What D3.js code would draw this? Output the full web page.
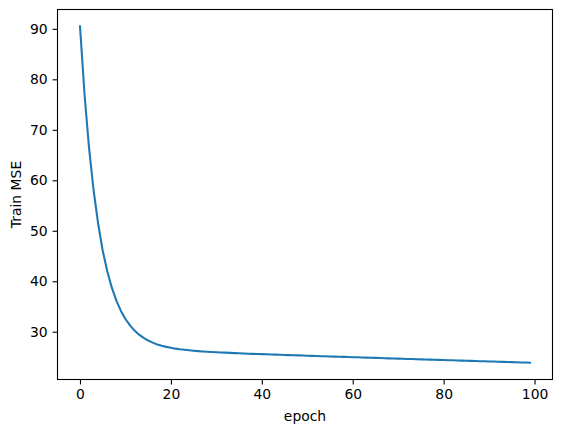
<!DOCTYPE html>
<html>
<head>
<meta charset="utf-8">
<script src="https://cdn.jsdelivr.net/npm/d3@7"></script>
<style>
body { margin: 0; background: #fff; }
text { font-family: "DejaVu Sans", sans-serif; fill: #000; }
</style>
</head>
<body>
<div id="chart"></div>
<script>
// train MSE per epoch
var mse = [
	90.50, 77.00, 66.30, 57.93, 51.35, 46.06, 41.99, 38.72, 36.15, 34.13,
	32.52, 31.25, 30.23, 29.42, 28.78, 28.25, 27.84, 27.49, 27.22, 27.00,
	26.82, 26.65, 26.53, 26.43, 26.33, 26.24, 26.16, 26.10, 26.05, 25.99,
	25.94, 25.89, 25.86, 25.81, 25.77, 25.73, 25.70, 25.65, 25.62, 25.59,
	25.56, 25.53, 25.49, 25.46, 25.44, 25.40, 25.37, 25.34, 25.31, 25.28,
	25.25, 25.22, 25.19, 25.16, 25.13, 25.10, 25.07, 25.05, 25.02, 24.99,
	24.95, 24.93, 24.90, 24.87, 24.84, 24.82, 24.79, 24.76, 24.73, 24.70,
	24.67, 24.64, 24.61, 24.59, 24.56, 24.53, 24.50, 24.47, 24.45, 24.42,
	24.39, 24.36, 24.34, 24.31, 24.28, 24.25, 24.23, 24.20, 24.17, 24.14,
	24.12, 24.09, 24.06, 24.03, 24.01, 23.98, 23.95, 23.92, 23.90, 23.87
]
var epochs = d3.range(mse.length)
var xTicks = [0, 20, 40, 60, 80, 100]
var yTicks = [30, 40, 50, 60, 70, 80, 90]

var w = 562, h = 432
// plot area edges (window.top is reserved, so prefixed names)
var pLeft = 57.5, pRight = 552.5, pTop = 9.5, pBottom = 379.5

var svg = d3.select("#chart")
	.append("svg")
	.attr("width", w)
	.attr("height", h)

// matplotlib style 5% margins
var xExt = d3.extent(epochs), yExt = d3.extent(mse)
var xPad = (xExt[1] - xExt[0]) * 0.05, yPad = (yExt[1] - yExt[0]) * 0.05

var x = d3.scaleLinear()
	.domain([xExt[0] - xPad, xExt[1] + xPad])
	.range([pLeft, pRight])

var y = d3.scaleLinear()
	.domain([yExt[0] - yPad, yExt[1] + yPad])
	.range([pBottom, pTop])

var line = d3.line()
	.x(function(d, i) {return x(epochs[i])})
	.y(function(d) {return y(d)})

svg.append("path")
	.datum(mse)
	.attr("d", line)
	.attr("fill", "none")
	.attr("stroke", "#1f77b4")
	.attr("stroke-width", 2.08)
	.attr("stroke-linejoin", "round")
	.attr("stroke-linecap", "square")

// axes
svg.append("g")
	.attr("transform", "translate(0," + pBottom + ")")
	.call(d3.axisBottom(x).tickValues(xTicks).tickSize(4.9).tickPadding(4.9))

svg.append("g")
	.attr("transform", "translate(" + pLeft + ",0)")
	.call(d3.axisLeft(y).tickValues(yTicks).tickSize(4.9).tickPadding(4.9))

svg.selectAll(".domain").remove()
svg.selectAll(".tick line").attr("stroke", "#000").attr("stroke-width", 1.1)
svg.selectAll(".tick text").style("font-size", "13.9px").attr("fill", "#000")

// frame
svg.append("rect")
	.attr("x", pLeft)
	.attr("y", pTop)
	.attr("width", pRight - pLeft)
	.attr("height", pBottom - pTop)
	.attr("fill", "none")
	.attr("stroke", "#000")
	.attr("stroke-width", 1.1)

svg.append("text")
	.attr("x", (pLeft + pRight) / 2)
	.attr("y", 421)
	.attr("text-anchor", "middle")
	.style("font-size", "13.9px")
	.text("epoch")

svg.append("text")
	.attr("transform", "translate(21," + (pTop + pBottom) / 2 + ") rotate(-90)")
	.attr("text-anchor", "middle")
	.style("font-size", "13.9px")
	.text("Train MSE")
</script>
</body>
</html>
